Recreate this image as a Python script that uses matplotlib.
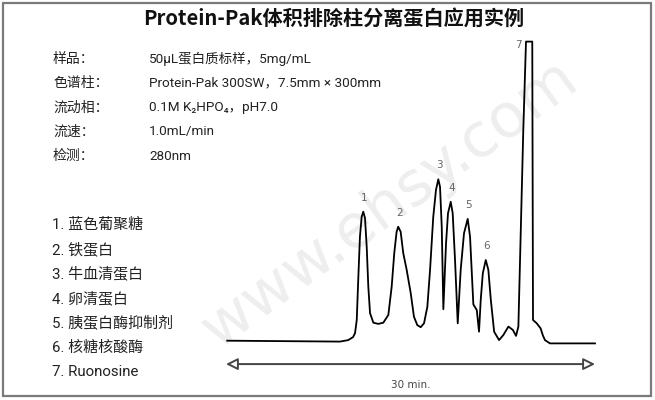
import matplotlib
matplotlib.use("Agg")
import matplotlib.pyplot as plt
from matplotlib.patches import Rectangle

plt.rcParams['font.family'] = ['Noto Sans CJK SC', 'DejaVu Sans']
latin_first = ['Roboto', 'Noto Sans CJK SC', 'DejaVu Sans']

# chromatogram trace: time (min), signal (% of peak 7)
time_min = [0.1, 9.27, 9.94, 10.33, 10.49, 10.63, 10.76, 10.89, 11.03, 11.16,
            11.30, 11.44, 11.57, 11.71, 11.98, 12.38, 12.79, 13.20, 13.47, 13.68,
            13.87, 14.00, 14.20, 14.41, 14.69, 15.02, 15.28, 15.55, 15.83, 16.10,
            16.37, 16.59, 16.85, 17.07, 17.26, 17.40, 17.54, 17.62, 17.67, 17.89,
            18.05, 18.27, 18.43, 18.62, 18.84, 19.08, 19.35, 19.65, 19.84, 20.00,
            20.11, 20.39, 20.57, 20.71, 20.88, 21.12, 21.33, 21.53, 21.80, 22.20,
            22.55, 22.96, 23.32, 23.58, 23.77, 23.90, 24.17, 24.39, 24.90, 24.96,
            25.26, 25.58, 25.75, 25.93, 26.34, 30.0]
signal = [0.1, -0.2, 0.3, 1.3, 2.6, 7.0, 21.4, 34.8, 41.4, 43.1,
          41.0, 31.4, 18.1, 9.3, 6.1, 5.7, 6.1, 8.7, 18.1, 29.3,
          36.4, 38.1, 36.4, 29.3, 23.7, 15.9, 8.1, 5.3, 4.6, 5.9,
          11.4, 23.7, 41.4, 50.3, 53.9, 51.4, 38.1, 21.4, 10.6, 32.6,
          42.6, 46.4, 42.6, 27.0, 5.9, 23.7, 35.9, 40.7, 34.8, 21.4,
          12.2, 10.3, 3.1, 13.7, 22.6, 27.0, 23.7, 13.7, 3.1, 0.3,
          2.0, 4.8, 3.7, 1.7, 4.8, 26.0, 70.3, 99.8, 99.8, 7.0,
          5.9, 4.2, 2.0, 0.3, -0.8, -0.8]

# peak apexes for the numbers
peak_names = ['1', '2', '3', '4', '5', '6']
peak_time = [11.16, 14.00, 17.26, 18.27, 19.65, 21.12]
peak_top = [43.1, 38.1, 53.9, 46.4, 40.7, 27.0]
peak7_time = 24.39
peak7_top = 99.8

run_length = 30

cond_labels = ['样品：', '色谱柱：', '流动相：', '流速：', '检测：']
cond_values = ['50μL蛋白质标样，5mg/mL',
               'Protein-Pak 300SW，7.5mm × 300mm',
               '0.1M K₂HPO₄，pH7.0',
               '1.0mL/min',
               '280nm']

compounds = ['1. 蓝色葡聚糖', '2. 铁蛋白', '3. 牛血清蛋白', '4. 卵清蛋白',
             '5. 胰蛋白酶抑制剂', '6. 核糖核酸酶', '7. Ruonosine']

fig = plt.figure(figsize=(6.55, 4.0), dpi=100)

# frame
fig.patches.append(Rectangle((3/655, 4/400), 648/655, 393/400, transform=fig.transFigure,
                             fill=False, edgecolor='#7a7a7a', linewidth=1.6))

fig.text(0.51, 0.955, 'Protein-Pak体积排除柱分离蛋白应用实例', ha='center', va='center',
         fontsize=14.5, weight='bold', color='#111')

for i, (lab, val) in enumerate(zip(cond_labels, cond_values)):
    y = 1 - (59 + 24.3 * i) / 400
    fig.text(53/655, y, lab, fontsize=10, va='center', color='#222')
    fig.text(149/655, y, val, fontsize=9.7, va='center', color='#222', family=latin_first)

for i, name in enumerate(compounds):
    y = 1 - (225 + 24.5 * i) / 400
    fig.text(52/655, y, name, fontsize=10.8, va='center', color='#222', family=latin_first)

# chromatogram axes: 0-30 min across the arrow
ax = fig.add_axes([226/655, 30/400, 369/655, 340/400])
ax.set_xlim(0, run_length)
ax.set_ylim(-9.67, 103.67)
ax.axis('off')
ax.set_zorder(2)

# faint watermark, blended so it never hides what is under it
fig.text(0.595, 0.49, 'www.ehsy.com', fontsize=44, color='black', alpha=0.07, rotation=36,
         ha='center', va='center', family=['DejaVu Sans'], zorder=1)

ax.plot(time_min, signal, color='black', linewidth=1.3, clip_on=False)

for name, t, s in zip(peak_names, peak_time, peak_top):
    ax.annotate(name, (t, s), xytext=(1, 14), textcoords='offset pixels',
                ha='center', va='center', fontsize=7.5, color='#666', family=['DejaVu Sans'])
ax.annotate('7', (peak7_time, peak7_top), xytext=(-8, -3), textcoords='offset pixels',
            ha='center', va='center', fontsize=7.5, color='#666', family=['DejaVu Sans'])

ax.annotate('', xy=(0, -7.7), xytext=(run_length, -7.7),
            arrowprops=dict(arrowstyle='<|-|>,head_length=0.7,head_width=0.35',
                            mutation_scale=10, fc='white', ec='#444', lw=1.4,
                            shrinkA=0, shrinkB=0))
ax.text(run_length / 2, -14.7, '30 min.', ha='center', va='center', fontsize=7.5,
        color='#444', family=['DejaVu Sans'], clip_on=False)

fig.savefig('out.png', dpi=100)
